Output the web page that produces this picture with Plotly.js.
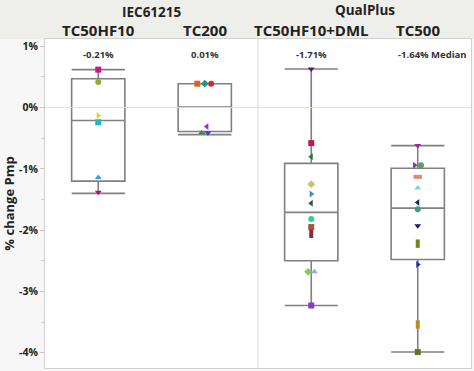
<!DOCTYPE html>
<html>
<head>
<meta charset="utf-8">
<script src="https://cdn.plot.ly/plotly-3.0.1.min.js"></script>
<style>html,body{margin:0;padding:0;background:#f7f7f7;}#chart{width:474px;height:371px;}</style>
</head>
<body>
<div id="chart"></div>
<script>
// ---- data ----
const categories = ["TC50HF10", "TC200", "TC50HF10+DML", "TC500"];
const groups = ["IEC61215", "QualPlus"];
const medianLabels = ["-0.21%", "0.01%", "-1.71%", "-1.64% Median"];
const q1 = [-1.20, -0.39, -2.50, -2.48];
const medians = [-0.21, 0.01, -1.71, -1.64];
const q3 = [0.47, 0.39, -0.91, -0.99];
const lowerWhisker = [-1.40, -0.44, -3.23, -3.99];
const upperWhisker = [0.62, 0.39, 0.63, -0.62];

const ptsTC50HF10 = [0.62, 0.42, -0.13, -0.24, -1.14, -1.38];
const ptsTC200 = [0.39, 0.39, 0.39, -0.31, -0.41, -0.41];
const ptsDML = [0.63, -0.58, -0.80, -1.25, -1.41, -1.56, -1.82, -1.95, -2.06, -2.68, -2.68, -3.23];
const ptsTC500 = [-0.62, -0.94, -0.94, -1.13, -1.31, -1.55, -1.66, -1.93, -2.22, -2.56, -3.54, -3.99];

// ---- styles ----
const symTC50HF10 = ["square", "circle", "triangle-right", "square", "triangle-up", "triangle-down"];
const colTC50HF10 = ["#c0188f", "#8fb02a", "#e8d21a", "#1fb8c8", "#2aa6cf", "#b3126e"];
const offTC50HF10 = [0, 0, 0, 0, 0, 0];
const symTC200 = ["square", "diamond", "circle", "triangle-left", "triangle-up", "triangle-down"];
const colTC200 = ["#e0602a", "#1a9a8a", "#d02a2a", "#9a2ae0", "#2a9a3a", "#2a4ad0"];
const offTC200 = [-0.07, 0, 0.06, 0.02, -0.03, 0.03];
const symDML = ["triangle-down", "square", "triangle-left", "diamond", "triangle-right", "triangle-left", "circle", "square", "line-ns", "diamond", "triangle-up", "square"];
const colDML = ["#5a1a6a", "#c0184a", "#1a7a3a", "#c8c07a", "#3a8ad0", "#2a5a5a", "#2ad0a0", "#a05a3a", "#8a2a4a", "#7ad05a", "#a0a0e0", "#8a3ac0"];
const offDML = [0, 0, 0, 0, 0, 0, 0, 0, 0, -0.03, 0.03, 0];
const symTC500 = ["triangle-down", "triangle-right", "circle", "line-ew", "triangle-up", "triangle-left", "circle", "triangle-down", "line-ns", "triangle-right", "line-ns", "square"];
const colTC500 = ["#a02a9a", "#7a3ac0", "#5aa05a", "#e08a6a", "#7ad0e0", "#1a2a7a", "#3aa07a", "#1a1a6a", "#6a8a1a", "#2a2ab0", "#c08a1a", "#5a7a1a"];
const offTC500 = [0, -0.03, 0.03, 0, 0, 0, 0, 0, 0, 0, 0, 0];

const idx = categories.map((c, i) => i);

const traces = [{
  type: "box",
  x: idx,
  q1: q1, median: medians, q3: q3,
  lowerfence: lowerWhisker, upperfence: upperWhisker,
  width: 0.5,
  whiskerwidth: 1,
  fillcolor: "rgba(255,255,255,0)",
  line: {color: "#808080", width: 1.6},
  boxpoints: false,
  hoverinfo: "skip",
  showlegend: false
}];

function addPts(i, vals, syms, cols, offs) {
  traces.push({
    type: "scatter", mode: "markers",
    x: vals.map((v, k) => i + offs[k]),
    y: vals,
    marker: {
      symbol: syms, color: cols, size: 6,
      line: {color: cols, width: syms.map(s => s.startsWith("line") ? 4 : 0)}
    },
    showlegend: false, hoverinfo: "skip"
  });
}
addPts(0, ptsTC50HF10, symTC50HF10, colTC50HF10, offTC50HF10);
addPts(1, ptsTC200, symTC200, colTC200, offTC200);
addPts(2, ptsDML, symDML, colDML, offDML);
addPts(3, ptsTC500, symTC500, colTC500, offTC500);

const annotations = [];
categories.forEach((c, i) => {
  annotations.push({x: i, xref: "x", y: 1, yref: "paper", yshift: 9, text: "<b>" + c + "</b>",
    showarrow: false, font: {family: "Open Sans, sans-serif", size: 15, color: "#222222"}, xanchor: "center", yanchor: "middle"});
  annotations.push({x: i === 3 ? 3.5 : i, xref: "x", y: 1, yref: "paper", yshift: -15,
    text: "<b>" + medianLabels[i] + "</b>", showarrow: false,
    font: {family: "Open Sans, sans-serif", size: 9.5, color: "#333333"},
    xanchor: i === 3 ? "right" : "center", yanchor: "middle", xshift: i === 3 ? -2 : 0});
});
groups.forEach((g, j) => {
  annotations.push({x: j * 2 + 0.5, xref: "x", y: 1, yref: "paper", yshift: j ? 29 : 27,
    text: "<b>" + g + "</b>", showarrow: false,
    font: {family: "Open Sans, sans-serif", size: 13.5, color: "#222222"}, xanchor: "center", yanchor: "middle"});
});

const layout = {
  width: 474, height: 371,
  margin: {l: 45, r: 3, t: 39, b: 3},
  paper_bgcolor: "#f7f7f7",
  plot_bgcolor: "#ffffff",
  showlegend: false,
  xaxis: {range: [-0.5, 3.5], showticklabels: false, showgrid: false, zeroline: false,
    showline: true, mirror: true, linecolor: "#d0d0d0", linewidth: 1, ticks: ""},
  yaxis: {range: [-4.25, 1.12], tickvals: [1, 0, -1, -2, -3, -4],
    ticktext: ["<b>1%</b>", "<b>0%</b>", "<b>-1%</b>", "<b>-2%</b>", "<b>-3%</b>", "<b>-4%</b>"],
    tickfont: {family: "Open Sans, sans-serif", size: 10.5, color: "#222222"},
    showgrid: false, zeroline: false, showline: true, mirror: true, linecolor: "#d0d0d0", linewidth: 1,
    ticks: "outside", ticklen: 4, tickcolor: "#c8c8c8",
    minor: {tickvals: [0.5, -0.5, -1.5, -2.5, -3.5], ticks: "outside", ticklen: 3, tickcolor: "#d0d0d0"},
    title: {text: "<b>% change Pmp</b>", font: {family: "Open Sans, sans-serif", size: 13, color: "#222222"}, standoff: 8}},
  shapes: [
    {type: "rect", xref: "paper", yref: "paper", x0: -0.2, x1: 1.1, y0: 1, y1: 1.2, fillcolor: "#eeeeea", line: {width: 0}, layer: "below"},
    {type: "line", xref: "paper", yref: "y", x0: 0, x1: 1, y0: 0, y1: 0, line: {color: "#e6e6a8", width: 1}},
    {type: "line", xref: "x", yref: "paper", x0: 1.5, x1: 1.5, y0: 0, y1: 1, line: {color: "#d8d8d8", width: 1}}
  ],
  annotations: annotations
};

Plotly.newPlot("chart", traces, layout, {displayModeBar: false, staticPlot: true});
</script>
</body>
</html>
